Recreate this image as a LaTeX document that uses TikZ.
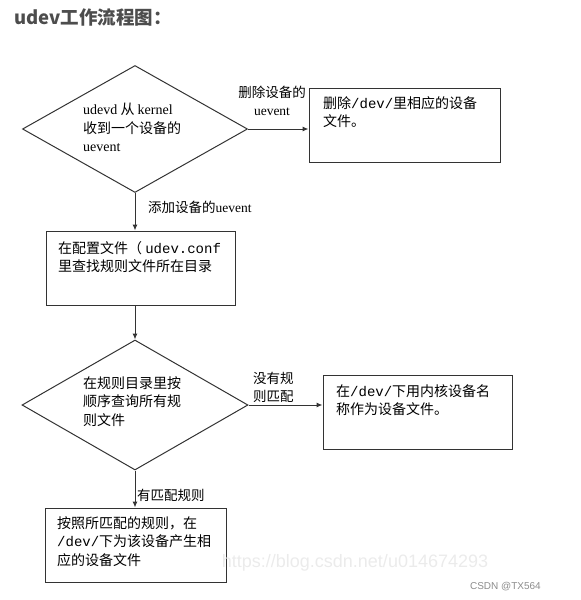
\documentclass[tikz,border=0pt]{standalone}
\usepackage{fontspec}
\setmainfont{Liberation Serif}
\setmonofont{Liberation Mono}
\newfontfamily\cjk{Noto Sans CJK SC}
\newfontfamily\wmfont{Liberation Sans}
\newcommand{\en}[1]{{\rmfamily #1}}
\newcommand{\mo}[1]{{\ttfamily #1}}
\usetikzlibrary{shapes.geometric,arrows.meta}
\definecolor{linec}{HTML}{333333}
\definecolor{titlec}{HTML}{4D4D4D}
\tikzset{
  flowbox/.style={draw=linec,line width=1pt,rectangle,inner sep=0pt},
  decision/.style={draw=linec,line width=1pt,diamond,inner sep=0pt},
  txt/.style={anchor=north west,inner sep=0pt,align=left,font=\cjk\fontsize{14}{18.5}\selectfont},
  lbl/.style={inner sep=0pt,align=left,font=\cjk\fontsize{13.5}{18}\selectfont},
  flow/.style={draw=linec,line width=1pt,-{Latex[length=6pt,width=5pt]}},
}
\begin{document}
\begin{tikzpicture}[x=1pt,y=-1pt]
\useasboundingbox (0,0) rectangle (581,600);
% title
\node[anchor=west,inner sep=0pt,text=titlec,font=\cjk\bfseries\fontsize{18.5}{21}\selectfont] (title) at (14,17) {udev工作流程图：};
% shapes
\node[decision,minimum width=225pt,minimum height=127pt] (d1) at (135,129) {};
\node[flowbox,minimum width=191pt,minimum height=74pt] (b1) at (404.5,125) {};
\node[flowbox,minimum width=189pt,minimum height=74pt] (b2) at (140.5,268) {};
\node[decision,minimum width=226pt,minimum height=130pt] (d2) at (135,405) {};
\node[flowbox,minimum width=189pt,minimum height=74pt] (b3) at (417.5,412) {};
\node[flowbox,minimum width=181pt,minimum height=74pt] (b4) at (135.5,545) {};
% texts
\node[txt] (t1) at (83,103) {\en{udevd} 从 \en{kernel}\\收到一个设备的\\\en{uevent}};
\node[txt] (t2) at (323,96) {删除\mo{/dev/}里相应的设备\\文件。};
\node[txt] (t3) at (58,241) {在配置文件（ \mo{udev.conf}\\里查找规则文件所在目录};
\node[txt] (t4) at (83,376) {在规则目录里按\\顺序查询所有规\\则文件};
\node[txt] (t5) at (336,384) {在\mo{/dev/}下用内核设备名\\称作为设备文件。};
\node[txt] (t6) at (57,516) {按照所匹配的规则，在\\\mo{/dev/}下为该设备产生相\\应的设备文件};
% connectors
\draw[flow] (d1.east) -- (d1.east -| b1.west);
\draw[flow] (d1.south) -- (d1.south |- b2.north);
\draw[flow] (d1.south |- b2.south) -- (d2.north);
\draw[flow] (d2.east) -- (d2.east -| b3.west);
\draw[flow] (d2.south) -- (d2.south |- b4.north);
% labels
\node[lbl,align=center] (l1) at (272,101) {删除设备的\\\en{uevent}};
\node[lbl,anchor=west] (l2) at (148,207) {添加设备的\en{uevent}};
\node[lbl,anchor=west] (l3) at (253,387) {没有规\\则匹配};
\node[lbl,anchor=west] (l4) at (137,495) {有匹配规则};
% watermarks
\node[inner sep=0pt,text=black!8,font=\wmfont\fontsize{18}{20}\selectfont] (wm) at (355,563) {https://blog.csdn.net/u014674293};
\node[inner sep=0pt,anchor=east,text=black!45,font=\wmfont\fontsize{10}{12}\selectfont] (csdn) at (541,587) {CSDN @TX564};
\end{tikzpicture}
\end{document}
